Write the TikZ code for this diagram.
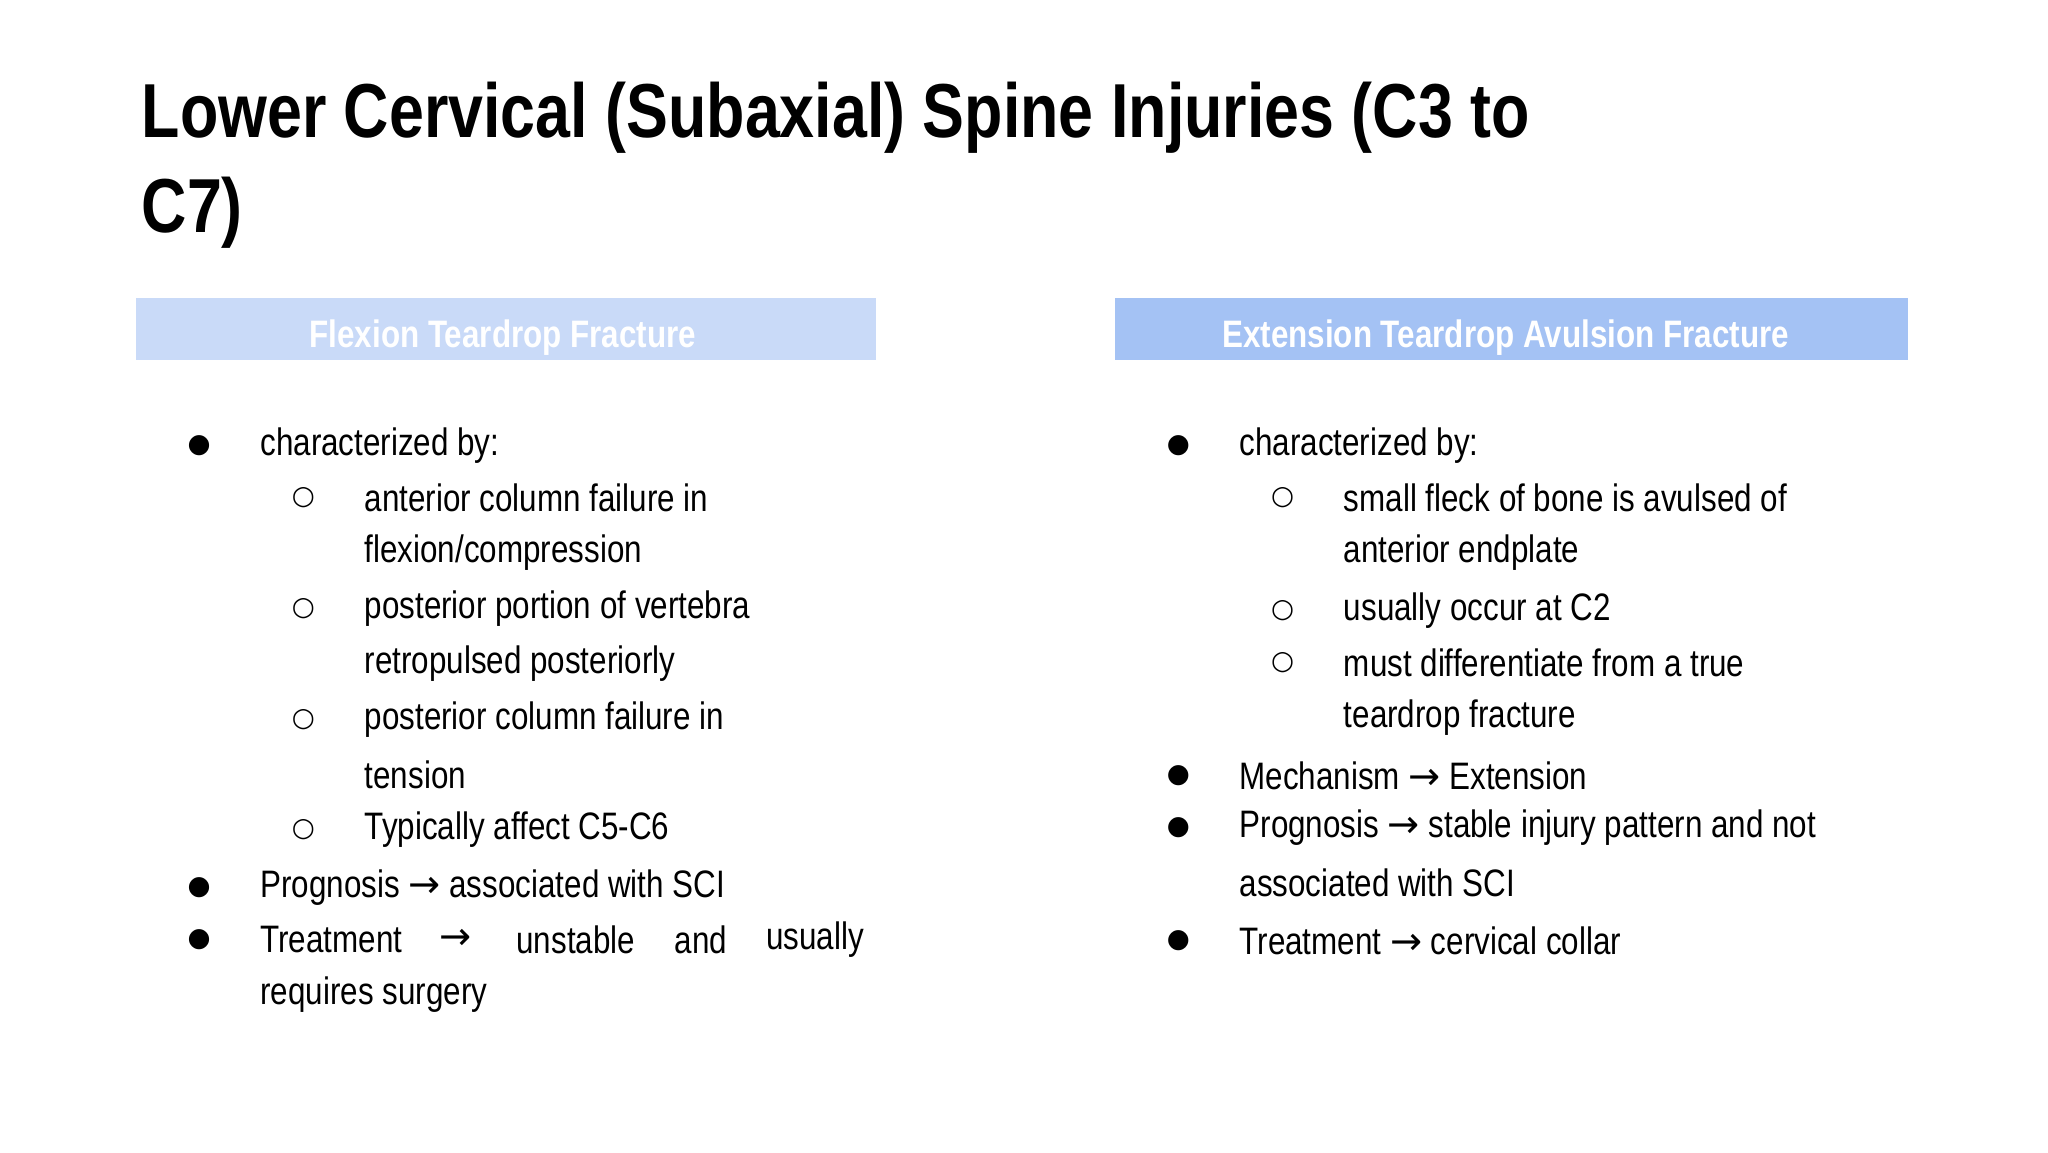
\documentclass[tikz,border=0pt]{standalone}
\usepackage{fontspec}
\setmainfont[FakeStretch=0.82]{Liberation Sans}
\newfontfamily\symf{DejaVu Sans}
\begin{document}
\begin{tikzpicture}[x=0.5pt,y=-0.5pt,
  tx/.style={anchor=west,inner sep=0pt,font=\fontsize{14.5}{17}\selectfont},
  bl/.style={anchor=center,inner sep=0pt,font=\symf\fontsize{10}{12}\selectfont},
  hd/.style={anchor=center,inner sep=0pt,text=white,font=\bfseries\fontsize{14.5}{17}\selectfont}]
\useasboundingbox (0,0) rectangle (1552,873);
\fill[white] (0,0) rectangle (1552,873);
\node[anchor=west,inner sep=0pt,font=\bfseries\fontsize{29}{34}\selectfont] (t1) at (107,89) {Lower Cervical (Subaxial) Spine Injuries (C3 to};
\node[anchor=west,inner sep=0pt,font=\bfseries\fontsize{29}{34}\selectfont] (t2) at (107,161) {C7)};
\fill[fill={rgb,255:red,201;green,218;blue,248}] (103,226) rectangle (664,273);
\node[hd] (h1) at (381,256) {Flexion Teardrop Fracture};
\fill[fill={rgb,255:red,164;green,194;blue,244}] (845,226) rectangle (1446,273);
\node[hd] (h2) at (1141,256) {Extension Teardrop Avulsion Fracture};
% left
\foreach \y in {338,673,712} \node[bl] at (151,\y) {●};
\foreach \y in {377,461,545,629} \node[bl] at (230,\y) {○};
\node[tx] (l1) at (197,338) {characterized by:};
\node[tx] (l2) at (276,377) {anterior column failure in};
\node[tx] (l3) at (276,419) {flexion/compression};
\node[tx] (l4) at (276,461) {posterior portion of vertebra};
\node[tx] (l5) at (276,503) {retropulsed posteriorly};
\node[tx] (l6) at (276,545) {posterior column failure in};
\node[tx] (l7) at (276,587) {tension};
\node[tx] (l8) at (276,629) {Typically affect C5-C6};
\node[tx] (l9) at (197,673) {Prognosis {\symf →} associated with SCI};
\node[tx] (l10a) at (197,712) {Treatment};
\node[tx] (l10b) at (333,712) {{\symf →}};
\node[tx] (l10c) at (391,712) {unstable};
\node[tx] (l10d) at (511,712) {and};
\node[tx,anchor=east] (l10e) at (655,712) {usually};
\node[tx] (l11) at (197,754) {requires surgery};
% right
\foreach \y in {338,588,627,713} \node[bl] at (893,\y) {●};
\foreach \y in {377,463,502} \node[bl] at (972,\y) {○};
\node[tx] (r1) at (939,338) {characterized by:};
\node[tx] (r2) at (1018,377) {small fleck of bone is avulsed of};
\node[tx] (r3) at (1018,419) {anterior endplate};
\node[tx] (r4) at (1018,463) { usually occur at C2};
\node[tx] (r5) at (1018,502) {must differentiate from a true};
\node[tx] (r6) at (1018,544) {teardrop fracture};
\node[tx] (r7) at (939,588) {Mechanism {\symf →} Extension};
\node[tx] (r8) at (939,627) {Prognosis {\symf →} stable injury pattern and not};
\node[tx] (r9) at (939,669) {associated with SCI};
\node[tx] (r10) at (939,713) {Treatment {\symf →} cervical collar};
\end{tikzpicture}
\end{document}
